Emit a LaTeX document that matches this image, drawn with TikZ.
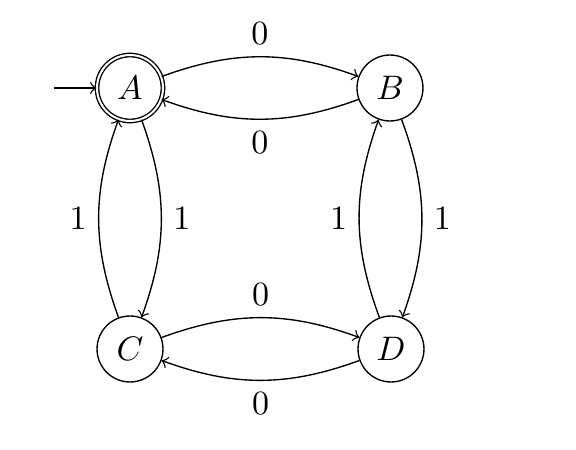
\documentclass[tikz,border=0pt]{standalone}
\begin{document}
\begin{tikzpicture}[x=0.2941pt, y=-0.2941pt,
  statenode/.style={circle, draw, minimum size=19.4pt, inner sep=0pt},
  acceptnode/.style={statenode, double, double distance=0.6pt},
  trans/.style={->, bend left=20},
  lbl/.style={auto}]
\useasboundingbox (0,0) rectangle (576,450);
\node[acceptnode] (A) at (130,88) {$A$};
\node[statenode] (B) at (390,88) {$B$};
\node[statenode] (C) at (130,349) {$C$};
\node[statenode] (D) at (391,349) {$D$};
\coordinate (init) at (54,88);
\draw[->] (init) -- (A);
\path
  (A) edge[trans] node[lbl] {$0$} (B)
  (B) edge[trans] node[lbl] {$0$} (A)
  (A) edge[trans] node[lbl] {$1$} (C)
  (C) edge[trans] node[lbl] {$1$} (A)
  (B) edge[trans] node[lbl] {$1$} (D)
  (D) edge[trans] node[lbl] {$1$} (B)
  (C) edge[trans] node[lbl] {$0$} (D)
  (D) edge[trans] node[lbl] {$0$} (C);
\end{tikzpicture}
\end{document}
